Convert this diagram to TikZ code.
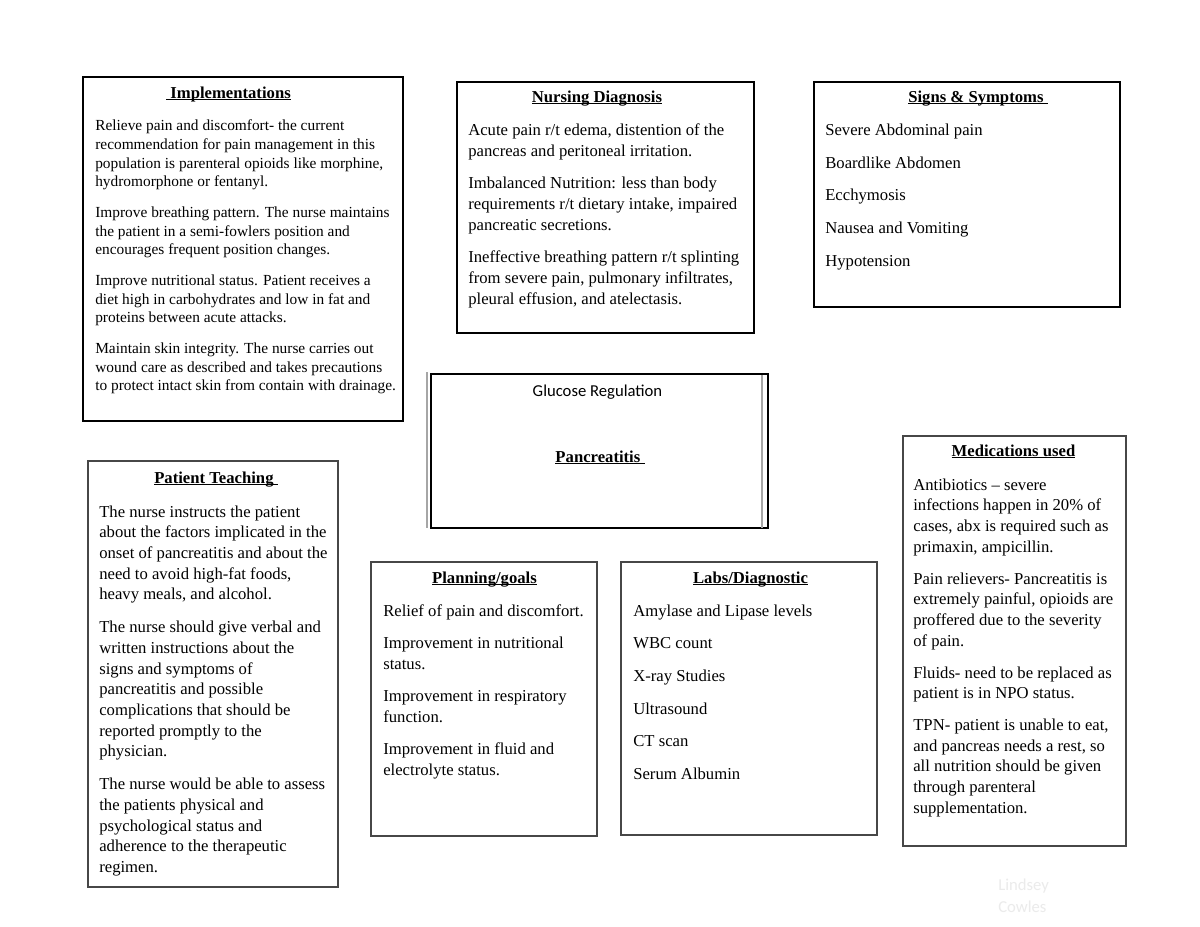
\documentclass[tikz,border=0pt]{standalone}
\usepackage{fontspec}
\setmainfont{Liberation Serif}
\newfontfamily\calibrifont{Carlito}
\usetikzlibrary{fit}
\newcommand\myul[1]{\setbox0=\hbox{#1}\rlap{\rule[-1.4pt]{\wd0}{0.6pt}}\box0}
\begin{document}
\begin{tikzpicture}[x=0.66pt,y=-0.66pt,
  thickbox/.style={draw=black, line width=1.3pt, inner sep=0pt},
  thinbox/.style={draw=black!72, line width=0.75pt, inner sep=0pt},
  titletext/.style={anchor=base, inner sep=0pt, font=\fontsize{11}{13}\selectfont\bfseries},
  body/.style={anchor=north west, align=left, inner sep=0pt},
  bodyA/.style={body, font=\fontsize{11}{13.86}\selectfont},
  bodyB/.style={body, font=\fontsize{11}{13.62}\selectfont},
  bodyC/.style={body, font=\fontsize{10.15}{12.3}\selectfont},
  wmtext/.style={anchor=base west, inner sep=0pt, text=black!8, font=\calibrifont\fontsize{11}{13}\selectfont},
]
\useasboundingbox[fill=white] (0,0) rectangle (1200,927);

% boxes
\node[thickbox, fit={(83,77)(403,421)}] (implbox) {};
\node[thickbox, fit={(457,82)(754,333)}] (nursbox) {};
\node[thickbox, fit={(814,82)(1120,307)}] (signbox) {};
\node[thinbox, fit={(88,461)(338,887)}] (teachbox) {};
\node[thinbox, fit={(371,562)(597,836)}] (planbox) {};
\node[thinbox, fit={(621,562)(877,835)}] (labbox) {};
\node[thinbox, fit={(903,436)(1126,846)}] (medbox) {};
\node[thickbox, fit={(431,374)(768,528)}] (centbox) {};
\coordinate (gl1) at (427,372);
\coordinate (gl2) at (427,528);
\coordinate (gr1) at (762,375);
\coordinate (gr2) at (762,528);
\draw[black!35, line width=1.3pt] (gl1) -- (gl2);
\draw[black!35, line width=1.3pt] (gr1) -- (gr2);

% central
\node[anchor=base, inner sep=0pt, font=\calibrifont\fontsize{11}{13}\selectfont] (gluc) at (597.5,396) {Glucose Regulation};
\node[titletext] (panc) at (600,462) {\myul{Pancreatitis\ }};

% Implementations
\node[titletext] (implt) at (228.5,98) {\myul{\ Implementations}};
\node[bodyC] (implb) at (95,117.5) {\strut Relieve pain and discomfort- the current\\
recommendation for pain management in this\\
population is parenteral opioids like morphine,\\
hydromorphone or fentanyl.\\[8pt]
Improve breathing pattern. The nurse maintains\\
the patient in a semi-fowlers position and\\
encourages frequent position changes.\\[8pt]
Improve nutritional status. Patient receives a\\
diet high in carbohydrates and low in fat and\\
proteins between acute attacks.\\[8pt]
Maintain skin integrity. The nurse carries out\\
wound care as described and takes precautions\\
to protect intact skin from contain with drainage.};

% Nursing Diagnosis
\node[titletext] (nurst) at (597,102) {\myul{Nursing Diagnosis}};
\node[bodyA] (nursb) at (468,120.3) {\strut Acute pain r/t edema, distention of the\\
pancreas and peritoneal irritation.\\[7.3pt]
Imbalanced Nutrition: less than body\\
requirements r/t dietary intake, impaired\\
pancreatic secretions.\\[7.3pt]
Ineffective breathing pattern r/t splinting\\
from severe pain, pulmonary infiltrates,\\
pleural effusion, and atelectasis.};

% Signs & Symptoms
\node[titletext] (signt) at (978,102) {\myul{Signs \& Symptoms\ }};
\node[bodyA] (signb) at (825,120.3) {\strut Severe Abdominal pain\\[7.75pt]
Boardlike Abdomen\\[7.75pt]
Ecchymosis\\[7.75pt]
Nausea and Vomiting\\[7.75pt]
Hypotension};

% Patient Teaching
\node[titletext] (teacht) at (216,483) {\myul{Patient Teaching\ }};
\node[bodyB] (teachb) at (99,502.6) {\strut The nurse instructs the patient\\
about the factors implicated in the\\
onset of pancreatitis and about the\\
need to avoid high-fat foods,\\
heavy meals, and alcohol.\\[8.2pt]
The nurse should give verbal and\\
written instructions about the\\
signs and symptoms of\\
pancreatitis and possible\\
complications that should be\\
reported promptly to the\\
physician.\\[8.2pt]
The nurse would be able to assess\\
the patients physical and\\
psychological status and\\
adherence to the therapeutic\\
regimen.};

% Planning/goals
\node[titletext] (plant) at (484.5,583) {\myul{Planning/goals}};
\node[bodyA] (planb) at (383,601.3) {\strut Relief of pain and discomfort.\\[7.3pt]
Improvement in nutritional\\
status.\\[7.3pt]
Improvement in respiratory\\
function.\\[7.3pt]
Improvement in fluid and\\
electrolyte status.};

% Labs/Diagnostic
\node[titletext] (labt) at (750.5,583) {\myul{Labs/Diagnostic}};
\node[bodyA] (labb) at (633,601.3) {\strut Amylase and Lipase levels\\[7.7pt]
WBC count\\[7.7pt]
X-ray Studies\\[7.7pt]
Ultrasound\\[7.7pt]
CT scan\\[7.7pt]
Serum Albumin};

% Medications used
\node[titletext] (medt) at (1013.5,456) {\myul{Medications used}};
\node[bodyB] (medb) at (913,475.5) {\strut Antibiotics -- severe\\
infections happen in 20\% of\\
cases, abx is required such as\\
primaxin, ampicillin.\\[7.5pt]
Pain relievers- Pancreatitis is\\
extremely painful, opioids are\\
proffered due to the severity\\
of pain.\\[7.5pt]
Fluids- need to be replaced as\\
patient is in NPO status.\\[7.5pt]
TPN- patient is unable to eat,\\
and pancreas needs a rest, so\\
all nutrition should be given\\
through parenteral\\
supplementation.};

% watermark
\node[wmtext] (wm1) at (998,890) {Lindsey};
\node[wmtext] (wm2) at (998,912) {Cowles};
\end{tikzpicture}
\end{document}
